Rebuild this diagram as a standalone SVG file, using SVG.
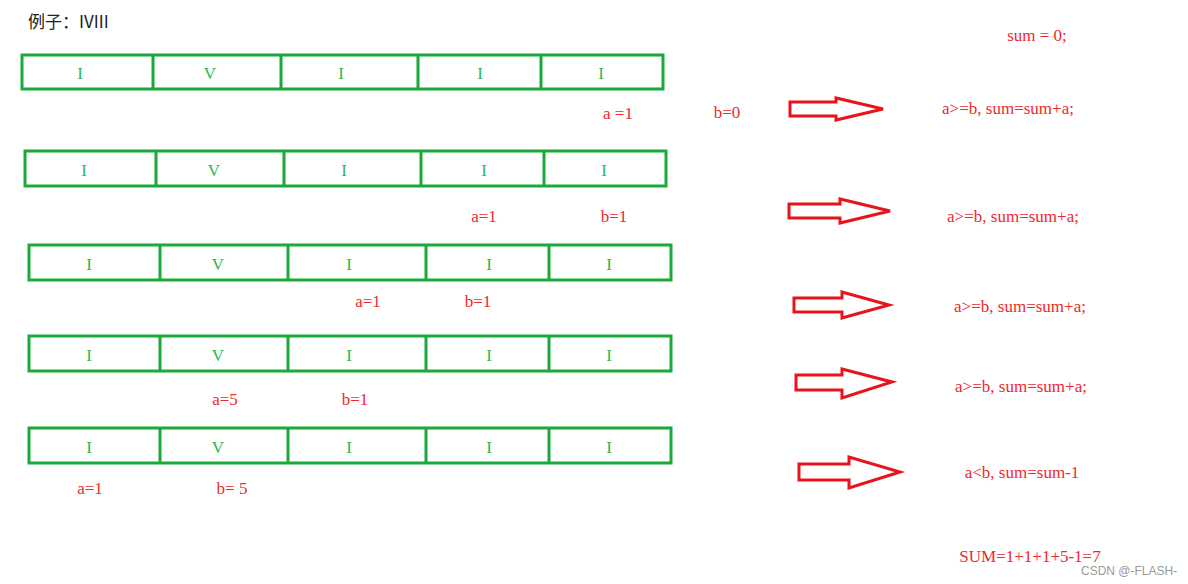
<svg xmlns="http://www.w3.org/2000/svg" width="1188" height="584" viewBox="0 0 1188 584">
<style>
.cell{fill:none;stroke:#1aaa3a;stroke-width:3}
.l{font-family:"Liberation Serif","Noto Sans CJK SC",serif;font-size:17px;fill:#2db84a;text-anchor:middle}
.r{font-family:"Liberation Serif","Noto Sans CJK SC",serif;font-size:17px;fill:#f0282d;text-anchor:middle}
.arr{fill:none;stroke:#e8141c;stroke-width:3;stroke-linejoin:miter}
</style>
<rect width="1188" height="584" fill="#fff"/>
<text x="28" y="28" font-family="'Noto Sans CJK SC','Liberation Serif',serif" font-size="17" fill="#222">例子：IVIII</text>
<g id="row1"><rect class="cell" x="22" y="55" width="641" height="34"/><path class="cell" d="M153 55V89M281 55V89M418 55V89M541 55V89"/>
<text class="l" x="80" y="79">I</text><text class="l" x="210" y="79">V</text><text class="l" x="341" y="79">I</text><text class="l" x="480" y="79">I</text><text class="l" x="601" y="79">I</text></g>
<g id="row2"><rect class="cell" x="25" y="151" width="641" height="35"/><path class="cell" d="M156 151V186M284 151V186M421 151V186M544 151V186"/>
<text class="l" x="84" y="176">I</text><text class="l" x="214" y="176">V</text><text class="l" x="344" y="176">I</text><text class="l" x="484" y="176">I</text><text class="l" x="604" y="176">I</text></g>
<g id="row3"><rect class="cell" x="29" y="245" width="642" height="35"/><path class="cell" d="M160 245V280M288 245V280M426 245V280M549 245V280"/>
<text class="l" x="89" y="270">I</text><text class="l" x="218" y="270">V</text><text class="l" x="349" y="270">I</text><text class="l" x="489" y="270">I</text><text class="l" x="609" y="270">I</text></g>
<g id="row4"><rect class="cell" x="29" y="336" width="642" height="35"/><path class="cell" d="M160 336V371M288 336V371M426 336V371M549 336V371"/>
<text class="l" x="89" y="361">I</text><text class="l" x="218" y="361">V</text><text class="l" x="349" y="361">I</text><text class="l" x="489" y="361">I</text><text class="l" x="609" y="361">I</text></g>
<g id="row5"><rect class="cell" x="29" y="428" width="642" height="35"/><path class="cell" d="M160 428V463M288 428V463M426 428V463M549 428V463"/>
<text class="l" x="89" y="453">I</text><text class="l" x="218" y="453">V</text><text class="l" x="349" y="453">I</text><text class="l" x="489" y="453">I</text><text class="l" x="609" y="453">I</text></g>
<g id="labels">
<text class="r" x="618" y="119">a =1</text><text class="r" x="727" y="118">b=0</text>
<text class="r" x="484" y="222">a=1</text><text class="r" x="614" y="222">b=1</text>
<text class="r" x="368" y="307">a=1</text><text class="r" x="478" y="307">b=1</text>
<text class="r" x="225" y="405">a=5</text><text class="r" x="355" y="405">b=1</text>
<text class="r" x="90" y="494">a=1</text><text class="r" x="232" y="494">b= 5</text>
</g>
<g id="connectors">
<path class="arr" d="M790 102H836V98L883 109L836 120V116H790Z"/>
<path class="arr" d="M789 204H840V199L890 211L840 223V218H789Z"/>
<path class="arr" d="M794 298H842V292L889 305L842 318V312H794Z"/>
<path class="arr" d="M796 375H842V369L892 382L842 398V390H796Z"/>
<path class="arr" d="M799 464H849V457L900 472L849 488V480H799Z"/>
</g>
<g id="rules">
<text class="r" x="1037" y="41">sum = 0;</text>
<text class="r" x="1008" y="114">a&gt;=b, sum=sum+a;</text>
<text class="r" x="1013" y="222">a&gt;=b, sum=sum+a;</text>
<text class="r" x="1020" y="312">a&gt;=b, sum=sum+a;</text>
<text class="r" x="1021" y="392">a&gt;=b, sum=sum+a;</text>
<text class="r" x="1022" y="478">a&lt;b, sum=sum-1</text>
<text class="r" x="1030" y="562">SUM=1+1+1+5-1=7</text>
</g>
<text x="1081" y="575" font-family="'Liberation Sans',sans-serif" font-size="12" fill="#999">CSDN @-FLASH-</text>
</svg>
